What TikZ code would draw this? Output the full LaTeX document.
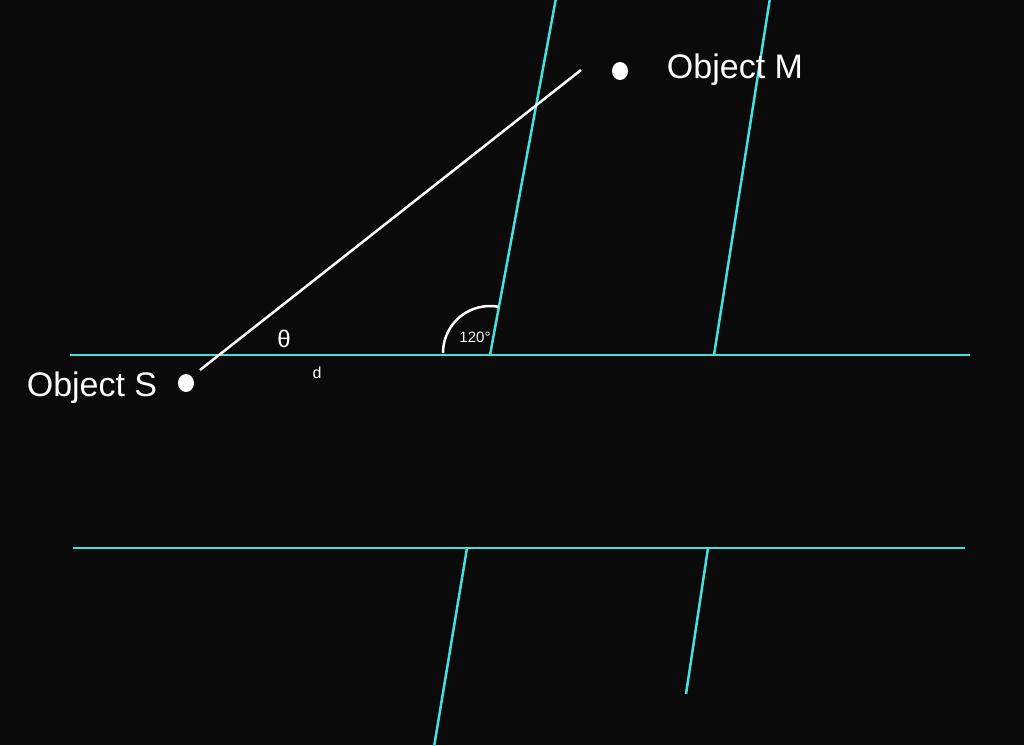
\documentclass[tikz,border=0pt]{standalone}
\usepackage{fontspec}
\setmainfont{Liberation Sans}
\usetikzlibrary{shapes.geometric}
\definecolor{bg}{HTML}{0A0A0A}
\definecolor{aqua}{HTML}{45E0E0}
\begin{document}
\begin{tikzpicture}[x=1pt,y=-1pt,
    rail/.style={draw=aqua,line width=2.5pt},
    ray/.style={draw=white,line width=2.5pt},
    dot/.style={ellipse,fill=white,inner sep=0pt,minimum width=16pt,minimum height=18pt},
    lbl/.style={text=white,inner sep=0pt,font=\fontsize{34}{40}\selectfont},
    small/.style={text=white,inner sep=0pt,font=\fontsize{15}{18}\selectfont}]
  \fill[bg] (0,0) rectangle (1024,745);
  \useasboundingbox (0,0) rectangle (1024,745);

  % upper rails
  \coordinate (TL) at (70,355);
  \coordinate (TR) at (970,355);
  \coordinate (P) at (490,355);
  \coordinate (Ptop) at (556,-2);
  \coordinate (Q) at (714,355);
  \coordinate (Qtop) at (770,-2);
  \draw[rail] (TL) -- (TR);
  \draw[rail] (P) -- (Ptop);
  \draw[rail] (Q) -- (Qtop);

  % lower rails
  \coordinate (BL) at (73,548);
  \coordinate (BR) at (965,548);
  \coordinate (U) at (467,548);
  \coordinate (Ubot) at (434,747);
  \coordinate (V) at (708,548);
  \coordinate (Vbot) at (686,694);
  \draw[rail] (BL) -- (BR);
  \draw[rail] (U) -- (Ubot);
  \draw[rail] (V) -- (Vbot);

  % objects
  \path (186,383) node[dot] (S) {};
  \path (620,71) node[dot] (M) {};
  \path (92,388) node[lbl] (Slbl) {Object S};
  \path (735,70) node[lbl] (Mlbl) {Object M};

  \coordinate (R1) at (200,370);
  \coordinate (R2) at (581,70);
  \draw[ray] (R1) -- (R2);

  % angles
  \draw[ray] (443,353) arc[start angle=180,end angle=280.5,radius=47];
  \path (475,337) node[small] (ang) {120°};
  \path (284,339) node[small,font=\fontsize{24}{28}\selectfont] (th) {θ};
  \path (317,373) node[small,font=\fontsize{16}{19}\selectfont] (d) {d};
\end{tikzpicture}
\end{document}
